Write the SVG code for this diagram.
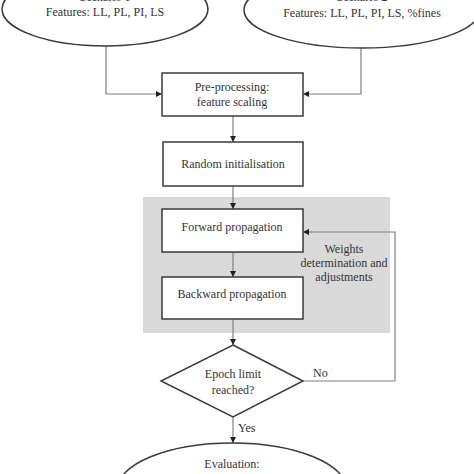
<svg xmlns="http://www.w3.org/2000/svg" width="474" height="474" viewBox="0 0 474 474">
<style>
text{font-family:"Liberation Serif","Times New Roman",serif;font-size:12px;fill:#333;text-anchor:middle}
.node{fill:#fff;stroke:#3a3a3a;stroke-width:1.5}
.conn{fill:none;stroke:#808080;stroke-width:1.2}
</style>
<defs>
<marker id="ah" viewBox="0 0 10 10" refX="10" refY="5" markerWidth="6" markerHeight="6" orient="auto" markerUnits="userSpaceOnUse">
<path d="M0,0 L10,5 L0,10 z" fill="#222"/>
</marker>
</defs>
<rect x="143" y="197" width="247" height="136" fill="#d9d9d9"/>
<g id="connectors">
<path class="conn" d="M106,46 V94 H162" marker-end="url(#ah)"/>
<path class="conn" d="M361,48 V94 H303" marker-end="url(#ah)"/>
<path class="conn" d="M233,116 V142" marker-end="url(#ah)"/>
<path class="conn" d="M233,186 V209" marker-end="url(#ah)"/>
<path class="conn" d="M233,252 V277" marker-end="url(#ah)"/>
<path class="conn" d="M233,319 V345" marker-end="url(#ah)"/>
<path class="conn" d="M303,381 H395 V232 H303" marker-end="url(#ah)"/>
<path class="conn" d="M233,417 V443" marker-end="url(#ah)"/>
<text x="313" y="377" style="text-anchor:start">No</text>
<text x="238" y="432" style="text-anchor:start">Yes</text>
</g>
<g id="scenario1">
<ellipse class="node" cx="105" cy="9" rx="103" ry="37"/>
<text x="105" y="1">Scenario 1</text>
<text x="105" y="16">Features: LL, PL, PI, LS</text>
</g>
<g id="scenario2">
<ellipse class="node" cx="362" cy="10" rx="118" ry="38"/>
<text x="362" y="1">Scenario 2</text>
<text x="362" y="17">Features: LL, PL, PI, LS, %fines</text>
</g>
<g id="preprocessing">
<rect class="node" x="162" y="73" width="141" height="43"/>
<text x="232" y="91">Pre-processing:</text>
<text x="232" y="106">feature scaling</text>
</g>
<g id="random">
<rect class="node" x="163" y="142" width="140" height="44"/>
<text x="233" y="168">Random initialisation</text>
</g>
<g id="forward">
<rect class="node" x="162" y="209" width="141" height="43"/>
<text x="232" y="231">Forward propagation</text>
</g>
<g id="backward">
<rect class="node" x="162" y="277" width="141" height="42"/>
<text x="232" y="298">Backward propagation</text>
</g>
<g id="weights">
<text x="344" y="253">Weights</text>
<text x="344" y="267">determination and</text>
<text x="344" y="281">adjustments</text>
</g>
<g id="epoch">
<polygon class="node" points="233,345 303,381 233,417 161,381"/>
<text x="233" y="378">Epoch limit</text>
<text x="233" y="394">reached?</text>
</g>
<g id="evaluation">
<ellipse class="node" cx="232" cy="490" rx="115" ry="47"/>
<text x="232" y="468">Evaluation:</text>
</g>
</svg>
